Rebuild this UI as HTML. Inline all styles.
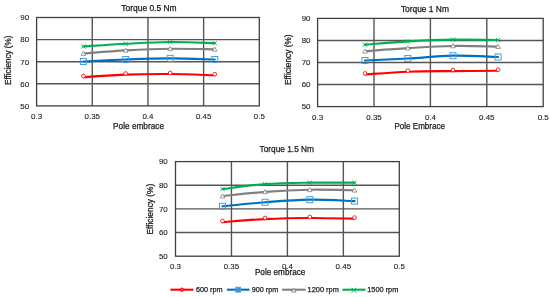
<!DOCTYPE html>
<html><head><meta charset="utf-8"><title>Efficiency vs Pole embrace</title>
<style>
html,body{margin:0;padding:0;background:#fff;}
body{width:550px;height:297px;overflow:hidden;}
svg{display:block;}
svg text{font-family:"Liberation Sans", Arial, sans-serif;fill:#1a1a1a;stroke:#1a1a1a;stroke-width:0.1px;}
svg text.h{stroke-width:0.25px;}
</style></head><body>
<svg width="550" height="297" viewBox="0 0 550 297">
<rect width="550" height="297" fill="#fff"/>
<line x1="36.6" y1="83.8" x2="259.3" y2="83.8" stroke="#555555" stroke-width="1.4"/>
<line x1="36.6" y1="61.7" x2="259.3" y2="61.7" stroke="#555555" stroke-width="1.4"/>
<line x1="36.6" y1="39.6" x2="259.3" y2="39.6" stroke="#555555" stroke-width="1.4"/>
<line x1="92.27" y1="17.5" x2="92.27" y2="105.9" stroke="#555555" stroke-width="1.4"/>
<line x1="147.95" y1="17.5" x2="147.95" y2="105.9" stroke="#555555" stroke-width="1.4"/>
<line x1="203.63" y1="17.5" x2="203.63" y2="105.9" stroke="#555555" stroke-width="1.4"/>
<rect x="36.6" y="17.5" width="222.7" height="88.4" fill="none" stroke="#404040" stroke-width="1.3"/>
<path d="M83.37,77.24 C90.42,76.8 111.2,75.14 125.68,74.61 C140.16,74.08 155.37,73.94 170.22,74.05 C185.07,74.17 207.34,75.09 214.76,75.29" fill="none" stroke="#ff0000" stroke-width="2.15" stroke-linecap="round"/>
<circle cx="83.37" cy="76.14" r="1.85" fill="#fff" stroke="#ff0000" stroke-width="0.85"/>
<circle cx="125.68" cy="73.51" r="1.85" fill="#fff" stroke="#ff0000" stroke-width="0.85"/>
<circle cx="170.22" cy="72.95" r="1.85" fill="#fff" stroke="#ff0000" stroke-width="0.85"/>
<circle cx="214.76" cy="74.19" r="1.85" fill="#fff" stroke="#ff0000" stroke-width="0.85"/>
<path d="M83.37,61.48 C90.42,61.15 111.2,60.01 125.68,59.49 C140.16,58.97 155.37,58.39 170.22,58.39 C185.07,58.39 207.34,59.31 214.76,59.49" fill="none" stroke="#0070c0" stroke-width="2.15" stroke-linecap="round"/>
<rect x="80.37" y="58.48" width="6" height="6" fill="none" stroke="#4a9ddc" stroke-width="1"/>
<rect x="122.68" y="56.49" width="6" height="6" fill="none" stroke="#4a9ddc" stroke-width="1"/>
<rect x="167.22" y="55.39" width="6" height="6" fill="none" stroke="#4a9ddc" stroke-width="1"/>
<rect x="211.76" y="56.49" width="6" height="6" fill="none" stroke="#4a9ddc" stroke-width="1"/>
<path d="M83.37,53.52 C90.42,53.01 111.2,51.22 125.68,50.43 C140.16,49.64 155.37,48.96 170.22,48.77 C185.07,48.59 207.34,49.23 214.76,49.32" fill="none" stroke="#808080" stroke-width="2.15" stroke-linecap="round"/>
<path d="M83.37,51.22 L85.67,55.36 L81.07,55.36 Z" fill="#fff" stroke="#8a8a8a" stroke-width="0.85"/>
<path d="M125.68,48.13 L127.98,52.27 L123.38,52.27 Z" fill="#fff" stroke="#8a8a8a" stroke-width="0.85"/>
<path d="M170.22,46.47 L172.52,50.61 L167.92,50.61 Z" fill="#fff" stroke="#8a8a8a" stroke-width="0.85"/>
<path d="M214.76,47.02 L217.06,51.16 L212.46,51.16 Z" fill="#fff" stroke="#8a8a8a" stroke-width="0.85"/>
<path d="M83.37,46.45 C90.42,46.01 111.2,44.54 125.68,43.8 C140.16,43.06 155.37,42.14 170.22,42.03 C185.07,41.92 207.34,42.95 214.76,43.14" fill="none" stroke="#00b050" stroke-width="2.15" stroke-linecap="round"/>
<path d="M81.27,44.35 L85.47,48.55 M81.27,48.55 L85.47,44.35" stroke="#00b050" stroke-width="0.9"/>
<path d="M123.58,41.7 L127.78,45.9 M123.58,45.9 L127.78,41.7" stroke="#00b050" stroke-width="0.9"/>
<path d="M168.12,39.93 L172.32,44.13 M168.12,44.13 L172.32,39.93" stroke="#00b050" stroke-width="0.9"/>
<path d="M212.66,41.04 L216.86,45.24 M212.66,45.24 L216.86,41.04" stroke="#00b050" stroke-width="0.9"/>
<text x="29.1" y="108.75" font-size="7.95" text-anchor="end">50</text>
<text x="29.1" y="86.65" font-size="7.95" text-anchor="end">60</text>
<text x="29.1" y="64.55" font-size="7.95" text-anchor="end">70</text>
<text x="29.1" y="42.45" font-size="7.95" text-anchor="end">80</text>
<text x="29.1" y="20.35" font-size="7.95" text-anchor="end">90</text>
<text x="36.6" y="119" font-size="7.95" text-anchor="middle">0.3</text>
<text x="92.27" y="119" font-size="7.95" text-anchor="middle">0.35</text>
<text x="147.95" y="119" font-size="7.95" text-anchor="middle">0.4</text>
<text x="203.63" y="119" font-size="7.95" text-anchor="middle">0.45</text>
<text x="259.3" y="119" font-size="7.95" text-anchor="middle">0.5</text>
<text x="121.3" y="10.9" font-size="8.4" text-anchor="start" textLength="55.3" lengthAdjust="spacingAndGlyphs" class="h">Torque 0.5 Nm</text>
<text x="113.1" y="129.1" font-size="8.4" text-anchor="start" textLength="50.9" lengthAdjust="spacingAndGlyphs" class="h">Pole embrace</text>
<text class="h" transform="translate(11.1,85) rotate(-90)" x="0" y="0" font-size="8.2" textLength="49.5" lengthAdjust="spacingAndGlyphs">Efficiency (%)</text>
<line x1="317.6" y1="84.55" x2="543.2" y2="84.55" stroke="#555555" stroke-width="1.4"/>
<line x1="317.6" y1="62.5" x2="543.2" y2="62.5" stroke="#555555" stroke-width="1.4"/>
<line x1="317.6" y1="40.45" x2="543.2" y2="40.45" stroke="#555555" stroke-width="1.4"/>
<line x1="374" y1="18.4" x2="374" y2="106.6" stroke="#555555" stroke-width="1.4"/>
<line x1="430.4" y1="18.4" x2="430.4" y2="106.6" stroke="#555555" stroke-width="1.4"/>
<line x1="486.8" y1="18.4" x2="486.8" y2="106.6" stroke="#555555" stroke-width="1.4"/>
<rect x="317.6" y="18.4" width="225.6" height="88.2" fill="none" stroke="#404040" stroke-width="1.3"/>
<path d="M364.98,74.5 C372.12,74.04 393.18,72.33 407.84,71.76 C422.5,71.2 437.92,71.26 452.96,71.1 C468,70.94 490.56,70.84 498.08,70.79" fill="none" stroke="#ff0000" stroke-width="2.15" stroke-linecap="round"/>
<circle cx="364.98" cy="73.4" r="1.85" fill="#fff" stroke="#ff0000" stroke-width="0.85"/>
<circle cx="407.84" cy="70.66" r="1.85" fill="#fff" stroke="#ff0000" stroke-width="0.85"/>
<circle cx="452.96" cy="70" r="1.85" fill="#fff" stroke="#ff0000" stroke-width="0.85"/>
<circle cx="498.08" cy="69.69" r="1.85" fill="#fff" stroke="#ff0000" stroke-width="0.85"/>
<path d="M364.98,60.52 C372.12,60.18 393.18,59.34 407.84,58.53 C422.5,57.72 437.92,55.92 452.96,55.66 C468,55.41 490.56,56.77 498.08,56.99" fill="none" stroke="#0070c0" stroke-width="2.15" stroke-linecap="round"/>
<rect x="361.98" y="57.52" width="6" height="6" fill="none" stroke="#4a9ddc" stroke-width="1"/>
<rect x="404.84" y="55.53" width="6" height="6" fill="none" stroke="#4a9ddc" stroke-width="1"/>
<rect x="449.96" y="52.66" width="6" height="6" fill="none" stroke="#4a9ddc" stroke-width="1"/>
<rect x="495.08" y="53.99" width="6" height="6" fill="none" stroke="#4a9ddc" stroke-width="1"/>
<path d="M364.98,51.25 C372.12,50.74 393.18,49.05 407.84,48.17 C422.5,47.29 437.92,46.22 452.96,45.96 C468,45.71 490.56,46.51 498.08,46.62" fill="none" stroke="#808080" stroke-width="2.15" stroke-linecap="round"/>
<path d="M364.98,48.95 L367.28,53.09 L362.68,53.09 Z" fill="#fff" stroke="#8a8a8a" stroke-width="0.85"/>
<path d="M407.84,45.87 L410.14,50.01 L405.54,50.01 Z" fill="#fff" stroke="#8a8a8a" stroke-width="0.85"/>
<path d="M452.96,43.66 L455.26,47.8 L450.66,47.8 Z" fill="#fff" stroke="#8a8a8a" stroke-width="0.85"/>
<path d="M498.08,44.32 L500.38,48.46 L495.78,48.46 Z" fill="#fff" stroke="#8a8a8a" stroke-width="0.85"/>
<path d="M364.98,44.64 C372.12,44.09 393.18,42.18 407.84,41.33 C422.5,40.49 437.92,39.79 452.96,39.57 C468,39.35 490.56,39.94 498.08,40.01" fill="none" stroke="#00b050" stroke-width="2.15" stroke-linecap="round"/>
<path d="M362.88,42.54 L367.08,46.74 M362.88,46.74 L367.08,42.54" stroke="#00b050" stroke-width="0.9"/>
<path d="M405.74,39.23 L409.94,43.43 M405.74,43.43 L409.94,39.23" stroke="#00b050" stroke-width="0.9"/>
<path d="M450.86,37.47 L455.06,41.67 M450.86,41.67 L455.06,37.47" stroke="#00b050" stroke-width="0.9"/>
<path d="M495.98,37.91 L500.18,42.11 M495.98,42.11 L500.18,37.91" stroke="#00b050" stroke-width="0.9"/>
<text x="310.5" y="109.45" font-size="7.95" text-anchor="end">50</text>
<text x="310.5" y="87.4" font-size="7.95" text-anchor="end">60</text>
<text x="310.5" y="65.35" font-size="7.95" text-anchor="end">70</text>
<text x="310.5" y="43.3" font-size="7.95" text-anchor="end">80</text>
<text x="310.5" y="21.25" font-size="7.95" text-anchor="end">90</text>
<text x="317.6" y="119.6" font-size="7.95" text-anchor="middle">0.3</text>
<text x="374" y="119.6" font-size="7.95" text-anchor="middle">0.35</text>
<text x="430.4" y="119.6" font-size="7.95" text-anchor="middle">0.4</text>
<text x="486.8" y="119.6" font-size="7.95" text-anchor="middle">0.45</text>
<text x="543.2" y="119.6" font-size="7.95" text-anchor="middle">0.5</text>
<text x="400.9" y="11.9" font-size="8.4" text-anchor="start" textLength="48" lengthAdjust="spacingAndGlyphs" class="h">Torque 1 Nm</text>
<text x="394.5" y="129.1" font-size="8.4" text-anchor="start" textLength="50.4" lengthAdjust="spacingAndGlyphs" class="h">Pole Embrace</text>
<text class="h" transform="translate(291.3,85.1) rotate(-90)" x="0" y="0" font-size="8.2" textLength="50.7" lengthAdjust="spacingAndGlyphs">Efficiency (%)</text>
<line x1="175.5" y1="232.55" x2="399.3" y2="232.55" stroke="#555555" stroke-width="1.4"/>
<line x1="175.5" y1="208.9" x2="399.3" y2="208.9" stroke="#555555" stroke-width="1.4"/>
<line x1="175.5" y1="185.25" x2="399.3" y2="185.25" stroke="#555555" stroke-width="1.4"/>
<line x1="231.45" y1="161.6" x2="231.45" y2="256.2" stroke="#555555" stroke-width="1.4"/>
<line x1="287.4" y1="161.6" x2="287.4" y2="256.2" stroke="#555555" stroke-width="1.4"/>
<line x1="343.35" y1="161.6" x2="343.35" y2="256.2" stroke="#555555" stroke-width="1.4"/>
<rect x="175.5" y="161.6" width="223.8" height="94.6" fill="none" stroke="#404040" stroke-width="1.3"/>
<path d="M222.5,222.1 C229.59,221.59 250.47,219.75 265.02,219.07 C279.57,218.39 294.86,218.07 309.78,218.01 C324.7,217.94 347.08,218.58 354.54,218.69" fill="none" stroke="#ff0000" stroke-width="2.15" stroke-linecap="round"/>
<circle cx="222.5" cy="221" r="1.85" fill="#fff" stroke="#ff0000" stroke-width="0.85"/>
<circle cx="265.02" cy="217.97" r="1.85" fill="#fff" stroke="#ff0000" stroke-width="0.85"/>
<circle cx="309.78" cy="216.91" r="1.85" fill="#fff" stroke="#ff0000" stroke-width="0.85"/>
<circle cx="354.54" cy="217.59" r="1.85" fill="#fff" stroke="#ff0000" stroke-width="0.85"/>
<path d="M222.5,206.3 C229.59,205.63 250.47,203.38 265.02,202.28 C279.57,201.17 294.86,199.87 309.78,199.68 C324.7,199.48 347.08,200.86 354.54,201.1" fill="none" stroke="#0070c0" stroke-width="2.15" stroke-linecap="round"/>
<rect x="219.5" y="203.3" width="6" height="6" fill="none" stroke="#4a9ddc" stroke-width="1"/>
<rect x="262.02" y="199.28" width="6" height="6" fill="none" stroke="#4a9ddc" stroke-width="1"/>
<rect x="306.78" y="196.68" width="6" height="6" fill="none" stroke="#4a9ddc" stroke-width="1"/>
<rect x="351.54" y="198.1" width="6" height="6" fill="none" stroke="#4a9ddc" stroke-width="1"/>
<path d="M222.5,196.13 C229.59,195.42 250.47,192.94 265.02,191.87 C279.57,190.81 294.86,190.02 309.78,189.74 C324.7,189.47 347.08,190.14 354.54,190.22" fill="none" stroke="#808080" stroke-width="2.15" stroke-linecap="round"/>
<path d="M222.5,193.83 L224.8,197.97 L220.2,197.97 Z" fill="#fff" stroke="#8a8a8a" stroke-width="0.85"/>
<path d="M265.02,189.57 L267.32,193.71 L262.72,193.71 Z" fill="#fff" stroke="#8a8a8a" stroke-width="0.85"/>
<path d="M309.78,187.44 L312.08,191.58 L307.48,191.58 Z" fill="#fff" stroke="#8a8a8a" stroke-width="0.85"/>
<path d="M354.54,187.92 L356.84,192.06 L352.24,192.06 Z" fill="#fff" stroke="#8a8a8a" stroke-width="0.85"/>
<path d="M222.5,189.03 C229.59,188.21 250.47,185.13 265.02,184.07 C279.57,183 294.86,182.89 309.78,182.65 C324.7,182.41 347.08,182.65 354.54,182.65" fill="none" stroke="#00b050" stroke-width="2.15" stroke-linecap="round"/>
<path d="M220.4,186.93 L224.6,191.13 M220.4,191.13 L224.6,186.93" stroke="#00b050" stroke-width="0.9"/>
<path d="M262.92,181.97 L267.12,186.17 M262.92,186.17 L267.12,181.97" stroke="#00b050" stroke-width="0.9"/>
<path d="M307.68,180.55 L311.88,184.75 M307.68,184.75 L311.88,180.55" stroke="#00b050" stroke-width="0.9"/>
<path d="M352.44,180.55 L356.64,184.75 M352.44,184.75 L356.64,180.55" stroke="#00b050" stroke-width="0.9"/>
<text x="167.8" y="259.05" font-size="7.95" text-anchor="end">50</text>
<text x="167.8" y="235.4" font-size="7.95" text-anchor="end">60</text>
<text x="167.8" y="211.75" font-size="7.95" text-anchor="end">70</text>
<text x="167.8" y="188.1" font-size="7.95" text-anchor="end">80</text>
<text x="167.8" y="164.45" font-size="7.95" text-anchor="end">90</text>
<text x="175.5" y="268.6" font-size="7.95" text-anchor="middle">0.3</text>
<text x="231.45" y="268.6" font-size="7.95" text-anchor="middle">0.35</text>
<text x="287.4" y="268.6" font-size="7.95" text-anchor="middle">0.4</text>
<text x="343.35" y="268.6" font-size="7.95" text-anchor="middle">0.45</text>
<text x="399.3" y="268.6" font-size="7.95" text-anchor="middle">0.5</text>
<text x="259.5" y="151.6" font-size="8.4" text-anchor="start" textLength="54.5" lengthAdjust="spacingAndGlyphs" class="h">Torque 1.5 Nm</text>
<text x="254.9" y="274.7" font-size="8.4" text-anchor="start" textLength="50.5" lengthAdjust="spacingAndGlyphs" class="h">Pole embrace</text>
<text class="h" transform="translate(152.9,234.5) rotate(-90)" x="0" y="0" font-size="8.2" textLength="50.7" lengthAdjust="spacingAndGlyphs">Efficiency (%)</text>
<line x1="170.4" y1="289.7" x2="193.4" y2="289.7" stroke="#ff0000" stroke-width="2.1"/>
<circle cx="181.9" cy="289.7" r="1.7" fill="#ff4040" stroke="#ff0000" stroke-width="0.9"/>
<text x="195.9" y="292" font-size="7.6" text-anchor="start" textLength="26.7" lengthAdjust="spacingAndGlyphs" class="h">600 rpm</text>
<line x1="226.9" y1="289.7" x2="249.4" y2="289.7" stroke="#0070c0" stroke-width="2.1"/>
<rect x="235.75" y="287.3" width="4.8" height="4.8" fill="#3f93d8" stroke="#4a9ddc" stroke-width="1"/>
<text x="251.7" y="292" font-size="7.6" text-anchor="start" textLength="26.5" lengthAdjust="spacingAndGlyphs" class="h">900 rpm</text>
<line x1="282.1" y1="289.7" x2="305.7" y2="289.7" stroke="#808080" stroke-width="2.1"/>
<path d="M293.9,288.12 L296.08,292.05 L291.71,292.05 Z" fill="#fff" stroke="#7a7a7a" stroke-width="0.85"/>
<text x="307.6" y="292" font-size="7.6" text-anchor="start" textLength="31.2" lengthAdjust="spacingAndGlyphs" class="h">1200 rpm</text>
<line x1="342.4" y1="289.7" x2="365.5" y2="289.7" stroke="#00b050" stroke-width="2.1"/>
<path d="M351.53,287.78 L356.37,292.62 M351.53,292.62 L356.37,287.78" stroke="#00b050" stroke-width="1.0"/>
<text x="367.2" y="292" font-size="7.6" text-anchor="start" textLength="31.2" lengthAdjust="spacingAndGlyphs" class="h">1500 rpm</text>
</svg>
</body></html>
